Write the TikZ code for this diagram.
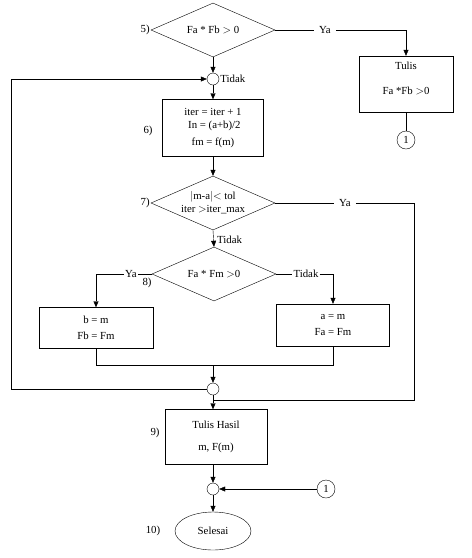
\documentclass[tikz,border=0pt]{standalone}
\usepackage{fontspec}
\setmainfont{Liberation Serif}
\usetikzlibrary{shapes.geometric,arrows.meta}

\begin{document}
\begin{tikzpicture}[x=1pt,y=-1pt, font=\fontsize{10.8}{13}\selectfont,
	decision/.style={draw, diamond, inner sep=0pt, minimum width=124pt, minimum height=54pt},
	process/.style={draw, rectangle, inner sep=2pt, align=center},
	joint/.style={draw, circle, inner sep=0pt, minimum size=12pt},
	connector/.style={draw, circle, inner sep=0pt, minimum size=18pt},
	terminal/.style={draw, ellipse, inner sep=0pt, minimum width=76pt, minimum height=38pt},
	word/.style={inner sep=1pt},
	>={Triangle[width=5pt,length=6pt]}]
	\useasboundingbox (0,0) rectangle (472,558);
	% decisions and boxes
	\node[decision] (d5) at (213,30) {};
	\node at (d5) {Fa * Fb $>$ 0};
	\node[process, minimum width=94pt, minimum height=56pt] (tulis) at (406,84) {Tulis\\[12pt]Fa *Fb $>$0\\[-2pt]\mbox{}};
	\node[connector] (c1a) at (406,140) {1};
	\node[joint] (j1) at (213,79) {};
	\node[process, minimum width=101pt, minimum height=57pt] (p6) at (213,128) {iter = iter + 1\\ \ In = (a+b)/2\\[4pt]fm = f(m)};
	\node[decision] (d7) at (213,203) {};
	\node[align=center, inner sep=0pt] at (d7) {$|$m-a$|$$<$ tol\\iter $>$iter\_max};
	\node[decision] (d8) at (214,274) {};
	\node at (d8) {Fa * Fm $>$0};
	\node[process, minimum width=114pt, minimum height=41pt] (bm) at (96,328) {b = m\\[3pt]Fb = Fm};
	\node[process, minimum width=113pt, minimum height=42pt] (am) at (333,325) {a = m\\[3pt]Fa = Fm};
	\node[joint] (j2) at (213,389) {};
	\node[process, minimum width=102pt, minimum height=55pt] (p9) at (216,437) {Tulis Hasil\\[9pt]m, F(m)};
	\node[joint] (j3) at (213,489) {};
	\node[connector] (c1b) at (326,489) {1};
	\node[terminal] (end) at (213,531) {Selesai};
	% words on the lines
	\node[word, inner sep=5pt] (ya5) at (325,30) {Ya};
	\node[word, anchor=west] (tid1) at (j1.east) {Tidak};
	\node[word, inner sep=5pt] (ya7) at (345,203) {Ya};
	\node[word, anchor=west] (tid7) at (216,240) {Tidak};
	\node[word] (ya8) at (131,274) {Ya};
	\node[word] (tid8) at (306,274) {Tidak};
	% step numbers
	\node[word, anchor=east] at (d5.west) {5)};
	\node[word] at (148,131) {6)};
	\node[word, anchor=east] at (d7.west) {7)};
	\node[word] at (147,283) {8)};
	\node[word] at (155,433) {9)};
	\node[word] at (153,531) {10)};
	\coordinate (m8) at (213,365);
	\coordinate (m9) at (213,400);
	\coordinate (r7) at (414,400);
	% lines
	\draw (d5.east) -- (ya5.west);
	\draw[->] (ya5.east) -| (tulis.north);
	\draw (tulis.south) -- (c1a.north);
	\draw[->] (d5.south) -- (j1.north);
	\draw[->] (j1.south) -- (p6.north);
	\draw[->] (p6.south) -- (d7.north);
	\draw (d7.east) -- (ya7.west);
	\draw (ya7.east) -| (r7) -- (m9);
	\draw[->] (d7.south) -- (d8.north);
	\draw (d8.west) -- (ya8.east);
	\draw[->] (ya8.west) -| (bm.north);
	\draw (d8.east) -- (tid8.west);
	\draw[->] (tid8.east) -| (am.north);
	\draw (bm.south) |- (m8);
	\draw (am.south) |- (m8);
	\draw[->] (m8) -- (j2.north);
	\draw[->] (j2.west) -- ++(-196,0) |- (j1.west);
	\draw[->] (j2.south) -- (p9.north -| j2);
	\draw[->] (p9.south -| j3) -- (j3.north);
	\draw[->] (c1b.west) -- (j3.east);
	\draw[->] (j3.south) -- (end.north);
\end{tikzpicture}
\end{document}
